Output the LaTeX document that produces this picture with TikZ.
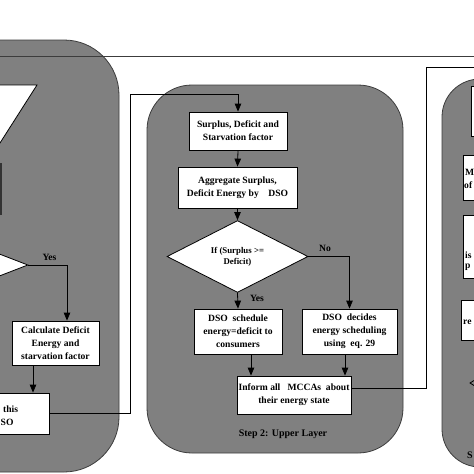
\documentclass[tikz,border=0pt]{standalone}
\usepackage{fontspec}
\setmainfont{Liberation Serif}
\usetikzlibrary{shapes.geometric,arrows.meta}
\definecolor{panelgray}{RGB}{128,128,128}
\definecolor{edgegray}{RGB}{60,60,60}
\begin{document}
\begin{tikzpicture}[x=1pt,y=-1pt,
  panel/.style={fill=panelgray, draw=edgegray, line width=0.8pt, rounded corners=#1},
  box/.style={draw=black, fill=white, line width=0.8pt, align=center, inner sep=1pt,
    font=\bfseries\fontsize{9.6}{12.8}\selectfont},
  dia/.style={draw=black, fill=white, line width=0.8pt, shape=diamond, inner sep=0pt,
    align=center, font=\bfseries\fontsize{8.8}{10.8}\selectfont},
  arr/.style={-{Triangle[length=8pt,width=6.5pt]}, line width=0.8pt},
  wire/.style={line width=0.8pt},
  lbl/.style={font=\bfseries\fontsize{9.6}{12}\selectfont, inner sep=0pt},
  steplbl/.style={font=\bfseries\fontsize{10}{12}\selectfont, inner sep=0pt},
  ]
\useasboundingbox (0,0) rectangle (474,474);
\fill[white] (0,0) rectangle (474,474);
\clip (0,0) rectangle (474,474);

% panels
\draw[panel=55pt] (-100,40) rectangle (119,472);
\draw[panel=45pt] (147,85) rectangle (403,453);
\draw[panel=38pt] (442,79) rectangle (600,467);

% top long line
\coordinate (t0) at (-10,56);
\coordinate (t1) at (490,56);
\draw[wire, draw=edgegray] (t0) -- (t1);

% ---- left panel (Step 1, cut off) ----
\draw[wire, fill=white] (-97,85) -- (37,85) -- (-30,190) -- cycle;
\fill[black!80] (0,163) rectangle (2.2,215);
\node[dia, minimum width=160pt, minimum height=62pt] (ldia) at (-52,265) {};
\node[box, minimum width=87pt, minimum height=44pt] (calc) at (55.5,343)
  {Calculate Deficit\\Energy and\\starvation factor};
\node[box, minimum width=99pt, minimum height=41pt] (send) at (-0.5,413.5) {};
\node[lbl, anchor=west] (sendA) at (3,409) {this};
\node[lbl, anchor=west] (sendB) at (0.5,422) {SO};
\node[lbl] (lyes) at (49.5,257) {Yes};
\draw[arr] (ldia.east) -| ([xshift=11.5pt]calc.north);
\draw[arr] ([xshift=-22.5pt]calc.south) -- ([xshift=-22.5pt]calc.south |- send.north);

% ---- middle panel (Step 2) ----
\node[box, minimum width=98pt, minimum height=38pt] (sdf) at (238,131)
  {Surplus, Deficit and\\Starvation factor};
\node[box, minimum width=119pt, minimum height=41pt] (agg) at (237.5,187.5)
  {Aggregate Surplus,\\Deficit Energy by\ \ \ \ DSO};
\node[dia, minimum width=141pt, minimum height=55pt] (cond) at (237.5,256.5)
  {If (Surplus >=\\Deficit)};
\node[box, minimum width=88pt, minimum height=45pt] (sched) at (238,331.5)
  {DSO\ \ schedule\\energy=deficit to\\consumers};
\node[box, minimum width=95pt, minimum height=45pt] (decide) at (349.5,331.5)
  {DSO\ \ decides\\energy scheduling\\using\ \ eq. 29};
\node[box, minimum width=114pt, minimum height=38pt] (inform) at (294,395)
  {Inform all\ \ \ MCCAs\ \ about\\their energy state};
\node[lbl] (no) at (325,248) {No};
\node[lbl] (myes) at (257,298) {Yes};
\node[steplbl] (step2) at (283,434) {Step 2: Upper Layer};

\coordinate (c1) at (130,94);
\draw[arr] (send.east) -| (c1) -| (sdf.north);
\draw[arr] (sdf.south) -- (agg.north);
\draw[arr] (agg.south) -- (cond.north);
\draw[arr] (cond.south) -- (sched.north);
\draw[arr] (cond.east) -| (decide.north);
\draw[arr] ([xshift=13pt]sched.south) -- ([xshift=13pt]sched.south |- inform.north);
\draw[arr] ([xshift=-4.5pt]decide.south) -- ([xshift=-4.5pt]decide.south |- inform.north);

\coordinate (c2) at (426,67);
\coordinate (c3) at (490,67);
\draw[wire] ([yshift=7pt]inform.east) -| (c2) -- (c3);

% ---- right panel (Step 3, cut off) ----
\node[box, minimum width=78pt, minimum height=50pt] (r1) at (510,111) {};
\node[box, minimum width=78pt, minimum height=45pt] (r2) at (502,177.5) {};
\node[box, minimum width=78pt, minimum height=63pt] (r3) at (502,246.5) {};
\node[box, minimum width=78pt, minimum height=40pt] (r4) at (500,320) {};
\node[lbl, anchor=west] (r2a) at (465,172) {M};
\node[lbl, anchor=west] (r2b) at (464,185) {of};
\node[lbl, anchor=west] (r3a) at (465,255) {is};
\node[lbl, anchor=west] (r3b) at (465,267) {p};
\node[lbl, anchor=west] (r4a) at (463,322) {re};
\coordinate (k1) at (478,378);
\coordinate (k2) at (470,383);
\coordinate (k3) at (478,388);
\draw[wire] (k1) -- (k2) -- (k3);
\node[steplbl, anchor=west] (step3) at (467,455) {S};
\end{tikzpicture}
\end{document}
